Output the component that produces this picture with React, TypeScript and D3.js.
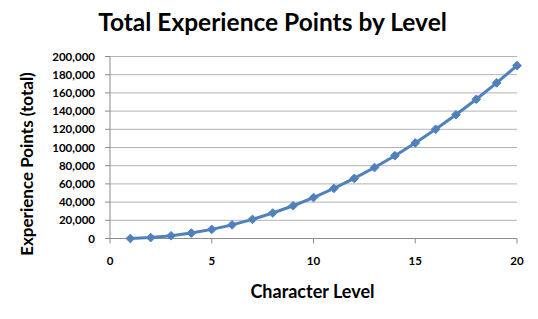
import React from "react";
import * as d3 from "d3";

const levels = [1, 2, 3, 4, 5, 6, 7, 8, 9, 10, 11, 12, 13, 14, 15, 16, 17, 18, 19, 20];
const xpTotal = [0, 1000, 3000, 6000, 10000, 15000, 21000, 28000, 36000, 45000, 55000, 66000, 78000, 91000, 105000, 120000, 136000, 153000, 171000, 190000];
const yTicks = [0, 20000, 40000, 60000, 80000, 100000, 120000, 140000, 160000, 180000, 200000];
const xTicks = [0, 5, 10, 15, 20];

const title = "Total Experience Points by Level";
const xTitle = "Character Level";
const yTitle = "Experience Points (total)";

const W = 538;
const H = 319;
const FONT = "Lato, 'Open Sans', sans-serif";

export default function App() {
  const x = d3.scaleLinear().domain([0, 20]).range([110, 517]);
  const y = d3.scaleLinear().domain([0, 200000]).range([238.5, 56.5]);
  const fmt = d3.format(",");
  const line = d3
    .line<number>()
    .x((_, i) => x(levels[i]))
    .y((d) => y(d));
  const diamond = d3.symbol().type(d3.symbolDiamond2 ?? d3.symbolDiamond).size(48)();

  return (
    <svg
      width={W}
      height={H}
      style={{ position: "absolute", left: 0, top: 0, background: "#fff" }}
      fontFamily={FONT}
    >
      <text x={272.5} y={31} textAnchor="middle" fontSize={24.5} fontWeight="bold" fill="#000">
        {title}
      </text>
      {yTicks.map((t) => (
        <g key={t}>
          {t > 0 && (
            <line x1={x(0)} x2={x(20)} y1={y(t)} y2={y(t)} stroke="#b3b3b3" strokeWidth={1} />
          )}
          <line x1={x(0) - 5} x2={x(0)} y1={y(t)} y2={y(t)} stroke="#8c8c8c" strokeWidth={1} />
          <text
            x={95}
            y={y(t)}
            dy="0.35em"
            textAnchor="end"
            fontSize={11.5}
            fontWeight="bold"
            fill="#000"
          >
            {fmt(t)}
          </text>
        </g>
      ))}
      <line x1={x(0)} x2={x(0)} y1={y(200000)} y2={y(0)} stroke="#8c8c8c" strokeWidth={1} />
      <line x1={x(0)} x2={x(20)} y1={y(0)} y2={y(0)} stroke="#8c8c8c" strokeWidth={1} />
      {xTicks.map((t) => (
        <g key={t}>
          <line x1={x(t)} x2={x(t)} y1={y(0)} y2={y(0) + 5} stroke="#8c8c8c" strokeWidth={1} />
          <text x={x(t)} y={265} textAnchor="middle" fontSize={11.5} fontWeight="bold" fill="#000">
            {t}
          </text>
        </g>
      ))}
      <path d={line(xpTotal) ?? ""} fill="none" stroke="#4F81BD" strokeWidth={3} />
      {xpTotal.map((v, i) => (
        <path
          key={i}
          d={diamond ?? ""}
          transform={`translate(${x(levels[i])},${y(v)})`}
          fill="#4F81BD"
          stroke="#4F81BD"
          strokeWidth={1}
        />
      ))}
      <text x={312.5} y={298} textAnchor="middle" fontSize={18} fontWeight="bold" fill="#000">
        {xTitle}
      </text>
      <text
        transform={`translate(33,164) rotate(-90)`}
        textAnchor="middle"
        fontSize={17}
        fontWeight="bold"
        fill="#000"
      >
        {yTitle}
      </text>
    </svg>
  );
}
